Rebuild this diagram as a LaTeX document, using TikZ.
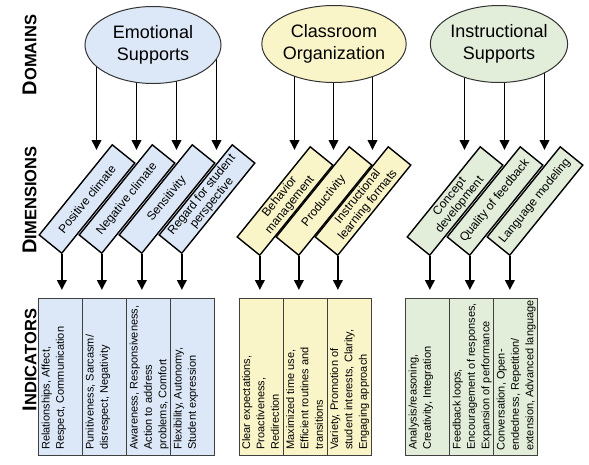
\documentclass[tikz,border=0pt]{standalone}
\usepackage{fontspec}
\setmainfont{Liberation Sans}
\usetikzlibrary{arrows.meta,backgrounds,shapes.geometric}

\definecolor{esblue}{RGB}{220,232,247}
\definecolor{coyellow}{RGB}{250,245,200}
\definecolor{isgreen}{RGB}{226,238,218}

\newcommand{\rowlabel}[2]{\textbf{{\fontsize{20}{20}\selectfont #1}{\fontsize{16.5}{16.5}\selectfont #2}}}

\tikzset{
  domainnode/.style={ellipse, draw=black!80, line width=1pt, minimum width=136pt,
    minimum height=77pt, inner sep=0pt, align=center, font=\fontsize{18}{22.5}\selectfont},
  dimbox/.style={draw, line width=1.4pt, rotate=51, minimum width=116pt, minimum height=29pt,
    inner sep=1pt, align=center, font=\fontsize{12}{13}\selectfont},
  indbox/.style={draw=black!75, line width=0.9pt, minimum width=44pt, minimum height=157pt,
    inner sep=0pt, anchor=north west},
  indtext/.style={rotate=90, anchor=north west, align=left, inner sep=0pt,
    font=\fontsize{11}{14.3}\selectfont},
  arr/.style={line width=1.9pt, -{Triangle[width=9.5pt,length=10pt]}},
}

\begin{document}
\begin{tikzpicture}[x=1pt,y=-1pt]
  \useasboundingbox (0,0) rectangle (589,464);

  % row labels
  \node (lDom) at (29.5,55)  [rotate=90] {\rowlabel{D}{OMAINS}};
  \node (lDim) at (29.5,200) [rotate=90] {\rowlabel{D}{IMENSIONS}};
  \node (lInd) at (29.5,360) [rotate=90] {\rowlabel{I}{NDICATORS}};

  % domains
  \node (ES) at (153,45) [domainnode, fill=esblue]   {Emotional\\Supports};
  \node (CO) at (334,44) [domainnode, fill=coyellow] {Classroom\\Organization};
  \node (IS) at (499,44) [domainnode, fill=isgreen]  {Instructional\\Supports};

  % dimensions
  \node (pc)  at (87,199)  [dimbox, fill=esblue] {Positive climate};
  \node (nc)  at (127,199) [dimbox, fill=esblue] {Negative climate};
  \node (sen) at (167,199) [dimbox, fill=esblue] {Sensitivity};
  \node (rsp) at (207,199) [dimbox, fill=esblue] {Regard for student\\perspective};

  \node (bm)  at (285,201) [dimbox, fill=coyellow] {Behavior\\management};
  \node (pd)  at (324,201) [dimbox, fill=coyellow] {Productivity};
  \node (ilf) at (363,201) [dimbox, fill=coyellow] {Instructional\\learning formats};

  \node (cd)  at (455,201) [dimbox, fill=isgreen] {Concept\\development};
  \node (qf)  at (495,201) [dimbox, fill=isgreen] {Quality of feedback};
  \node (lm)  at (535,201) [dimbox, fill=isgreen] {Language modeling};

  % indicators
  \node (ipc)  at (38,298)  [indbox, fill=esblue] {};
  \node (inc)  at (82,298)  [indbox, fill=esblue] {};
  \node (isen) at (126,298) [indbox, fill=esblue] {};
  \node (irsp) at (170,298) [indbox, fill=esblue] {};

  \node (ibm)  at (238.5,298) [indbox, fill=coyellow] {};
  \node (ipd)  at (282.5,298) [indbox, fill=coyellow] {};
  \node (iilf) at (326.5,298) [indbox, fill=coyellow] {};

  \node (icd)  at (405,298) [indbox, fill=isgreen] {};
  \node (iqf)  at (449,298) [indbox, fill=isgreen] {};
  \node (ilm)  at (493,298) [indbox, fill=isgreen] {};

  \node (ipc-t)  at ([shift={(3.5,-6)}]ipc.south west)  [indtext] {Relationships, Affect,\\Respect, Communication};
  \node (inc-t)  at ([shift={(3.5,-6)}]inc.south west)  [indtext] {Punitiveness, Sarcasm/\\disrespect, Negativity};
  \node (isen-t) at ([shift={(3.5,-6)}]isen.south west) [indtext] {Awareness, Responsiveness,\\Action to address\\problems, Comfort};
  \node (irsp-t) at ([shift={(3.5,-6)}]irsp.south west) [indtext] {Flexibility, Autonomy,\\Student expression};
  \node (ibm-t)  at ([shift={(3.5,-6)}]ibm.south west)  [indtext] {Clear expectations,\\Proactiveness,\\Redirection};
  \node (ipd-t)  at ([shift={(3.5,-6)}]ipd.south west)  [indtext] {Maximized time use,\\Efficient routines and\\transitions};
  \node (iilf-t) at ([shift={(3.5,-6)}]iilf.south west) [indtext] {Variety, Promotion of\\student interests, Clarity,\\Engaging approach};
  \node (icd-t)  at ([shift={(3.5,-6)}]icd.south west)  [indtext] {Analysis/reasoning,\\Creativity, Integration};
  \node (iqf-t)  at ([shift={(3.5,-6)}]iqf.south west)  [indtext] {Feedback loops,\\Encouragement of responses,\\Expansion of performance};
  \node (ilm-t)  at ([shift={(3.5,-5)}]ilm.south west)  [indtext] {Conversation, Open-\\endedness, Repetition/\\extension, Advanced language};

  % arrow tips above the dimensions
  \coordinate (tpc)  at ([shift={(9.5,-49)}]pc.center);
  \coordinate (tnc)  at ([shift={(9.5,-49)}]nc.center);
  \coordinate (tsen) at ([shift={(9.5,-49)}]sen.center);
  \coordinate (trsp) at ([shift={(9.5,-49)}]rsp.center);
  \coordinate (tbm)  at ([shift={(9.5,-51)}]bm.center);
  \coordinate (tpd)  at ([shift={(9.5,-51)}]pd.center);
  \coordinate (tilf) at ([shift={(9.5,-51)}]ilf.center);
  \coordinate (tcd)  at ([shift={(9.5,-51)}]cd.center);
  \coordinate (tqf)  at ([shift={(9.5,-51)}]qf.center);
  \coordinate (tlm)  at ([shift={(9.5,-51)}]lm.center);

  \begin{scope}[on background layer]
    \draw[arr] (tpc  |- ES.center) -- (tpc);
    \draw[arr] (tnc  |- ES.center) -- (tnc);
    \draw[arr] (tsen |- ES.center) -- (tsen);
    \draw[arr] (trsp |- ES.center) -- (trsp);
    \draw[arr] (tbm  |- CO.center) -- (tbm);
    \draw[arr] (tpd  |- CO.center) -- (tpd);
    \draw[arr] (tilf |- CO.center) -- (tilf);
    \draw[arr] (tcd  |- IS.center) -- (tcd);
    \draw[arr] (tqf  |- IS.center) -- (tqf);
    \draw[arr] (tlm  |- IS.center) -- (tlm);
  \end{scope}

  % dimensions to indicators
  \path[arr, shorten >=8pt]
    (pc.south west)  edge (pc.south west  |- ipc.north)
    (nc.south west)  edge (nc.south west  |- inc.north)
    (sen.south west) edge (sen.south west |- isen.north)
    (rsp.south west) edge (rsp.south west |- irsp.north)
    (bm.south west)  edge (bm.south west  |- ibm.north)
    (pd.south west)  edge (pd.south west  |- ipd.north)
    (ilf.south west) edge (ilf.south west |- iilf.north)
    (cd.south west)  edge (cd.south west  |- icd.north)
    (qf.south west)  edge (qf.south west  |- iqf.north)
    (lm.south west)  edge (lm.south west  |- ilm.north);
\end{tikzpicture}
\end{document}
